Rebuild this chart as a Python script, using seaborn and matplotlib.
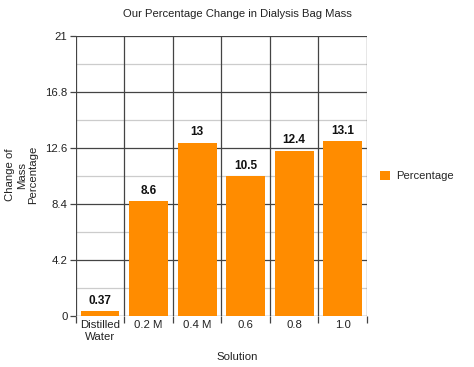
import matplotlib
matplotlib.use("Agg")
import matplotlib.pyplot as plt
import seaborn as sns
import pandas as pd
import numpy as np

categories = ["Distilled\nWater", "0.2 M", "0.4 M", "0.6", "0.8", "1.0"]
values = [0.37, 8.6, 13, 10.5, 12.4, 13.1]
value_labels = ["0.37", "8.6", "13", "10.5", "12.4", "13.1"]
yticks = [0, 4.2, 8.4, 12.6, 16.8, 21]
ytick_labels = ["0", "4.2", "8.4", "12.6", "16.8", "21"]

sns.set_theme(style="white")
plt.rcParams['font.family'] = ['Liberation Sans', 'DejaVu Sans']

df = pd.DataFrame({"Solution": categories, "Percentage": values})

fig = plt.figure(figsize=(4.74, 3.67), dpi=100)
ax = fig.add_axes([0.160, 0.139, 0.614, 0.763])

color = "#FF8C00"
sns.barplot(data=df, x="Solution", y="Percentage", color=color, width=0.8,
            ax=ax, saturation=1, zorder=3, label="Percentage",
            edgecolor=color, linewidth=0)

ax.set_ylim(0, 21)
ax.set_xlim(-0.5, len(categories) - 0.5)

# grid: minor light, major dark
for y in np.arange(2.1, 21, 4.2):
    ax.axhline(y, color="#cccccc", lw=0.9, zorder=1)
for y in yticks:
    ax.axhline(y, color="#444444", lw=0.9, zorder=1)
for x in np.arange(-0.5, len(categories), 1.0):
    ax.axvline(x, color="#444444", lw=0.9, zorder=1)

fs = 8.2
ax.set_yticks(yticks)
ax.set_yticklabels(ytick_labels, fontsize=fs, color="#222222")
ax.set_xticks(range(len(categories)))
ax.set_xticklabels(categories, fontsize=fs, color="#222222", linespacing=1.2)
ax.tick_params(axis="x", length=0, pad=3)
ax.tick_params(axis="y", length=4, width=0.9, color="#444444", left=True, pad=2)
ax.set_xticks(np.arange(-0.5, len(categories), 1.0), minor=True)
ax.tick_params(axis="x", which="minor", length=5, width=0.9, color="#444444", bottom=True)

for s in ax.spines.values():
    s.set_visible(False)

ax.bar_label(ax.containers[0], labels=value_labels, padding=3,
             fontsize=8.5, fontweight="bold", color="#111111")

ax.set_xlabel("")
ax.set_ylabel("")
fig.text(0.5, 0.962, "Our Percentage Change in Dialysis Bag Mass",
         ha="center", va="center", fontsize=8.1, color="#222222")
fig.text(0.5, 0.027, "Solution", ha="center", va="center", fontsize=fs, color="#222222")
fig.text(0.046, 0.523, "Change of\nMass\nPercentage", ha="center", va="center",
         rotation=90, fontsize=fs, color="#222222", linespacing=1.2)

ax.legend(loc="center left", bbox_to_anchor=(1.01, 0.5), frameon=False,
          fontsize=8.1, handlelength=0.9, handleheight=0.9, handletextpad=0.5)

fig.savefig("out.png", dpi=100)
